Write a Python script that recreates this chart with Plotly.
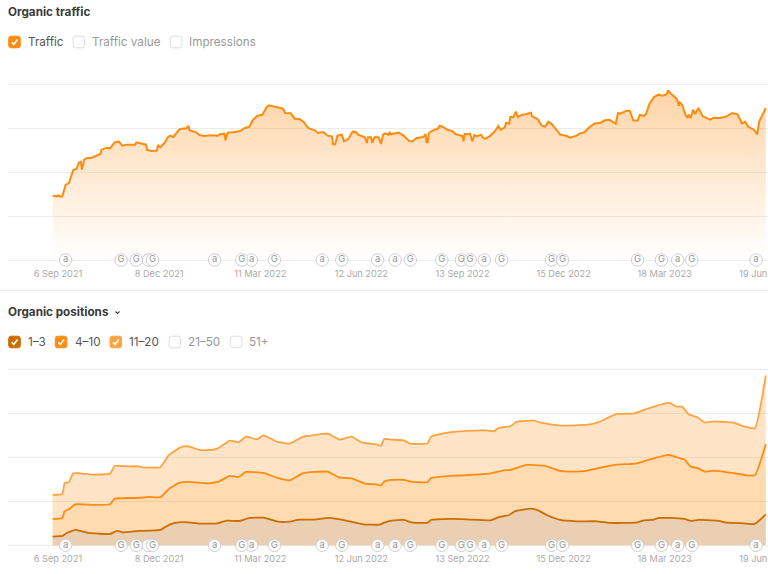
from datetime import date, timedelta
import plotly.graph_objects as go

# all series: day offset from 1 Sep 2021, value in chart units (no axis numbers in the source)
START = date(2021, 9, 1)

traffic_days = [0,4,5,7,9,10,12,15,17,19,22,24,26,27,29,31,36,40,44,45,50,53,57,61,64,68,76,77,86,87,91,96,97,99,103,106,108,111,117,123,125,126,132,135,140,145,152,154,158,159,161,166,172,177,181,184,188,193,197,199,206,212,214,219,223,227,231,235,241,244,249,253,257,258,260,262,266,268,272,276,279,281,287,289,290,293,294,296,300,302,304,306,309,310,311,318,323,328,331,335,341,343,344,345,346,351,354,356,359,363,368,371,377,378,379,382,384,386,388,390,394,396,398,402,407,410,412,416,417,420,421,424,426,428,432,435,440,441,446,450,453,456,459,464,467,473,476,482,485,489,493,498,504,508,512,518,520,522,528,531,534,538,540,544,546,549,553,557,561,565,566,569,574,576,577,579,582,584,585,587,589,591,594,598,605,608,613,618,620,625,630,634,637,640,645,648,650,656]
traffic = [193,191,194,190,191,206,226,230,251,270,273,291,295,271,301,305,307,313,318,331,337,335,353,355,343,346,346,353,346,330,327,328,345,338,351,368,373,369,393,395,402,389,383,375,372,374,373,377,379,359,382,383,386,396,400,419,432,436,459,464,458,454,441,440,423,423,414,396,389,381,384,373,371,347,347,373,376,356,363,385,384,376,369,351,368,368,351,368,368,348,376,380,376,384,377,382,373,357,356,366,369,378,353,353,381,391,393,403,399,391,386,377,372,356,378,377,379,356,375,371,376,366,364,371,387,402,391,398,411,409,429,429,445,429,436,437,442,431,423,403,400,415,408,386,376,372,367,373,380,383,396,409,412,419,421,409,441,439,448,447,419,418,435,432,439,469,488,496,493,497,509,498,484,463,473,466,436,426,436,426,451,438,456,431,421,427,426,429,431,441,437,409,415,399,391,377,416,456]

pos_11_20_days = [0,9,11,15,19,25,37,53,57,68,79,83,99,107,119,126,135,145,152,163,171,178,188,194,206,218,230,253,264,275,284,298,302,305,312,323,329,345,348,365,375,397,406,410,421,427,443,450,467,492,501,519,535,550,567,574,579,585,593,600,608,627,637,646,656]
pos_11_20 = [151,154,186,190,216,216,212,215,238,237,237,234,234,271,296,296,286,286,291,314,309,326,318,330,311,305,325,335,317,326,309,303,298,319,317,315,305,306,326,339,342,345,342,352,357,371,374,367,359,362,368,394,396,413,427,416,416,393,384,368,372,367,355,352,510]

pos_4_10_days = [0,9,11,15,21,37,53,57,79,89,99,107,117,126,143,152,163,171,178,194,206,218,230,253,263,275,287,298,302,305,312,323,331,345,348,365,378,401,415,421,436,452,467,481,492,501,519,536,553,567,577,581,587,593,600,608,623,639,646,656]
pos_4_10 = [79,82,102,108,123,121,123,140,142,145,144,169,188,190,186,190,208,205,220,217,203,195,216,221,204,201,185,183,179,191,196,196,190,190,202,208,210,215,225,226,241,239,223,221,224,231,242,245,261,271,261,258,236,232,221,224,218,210,210,304]

pos_1_3_days = [0,9,13,21,33,53,59,65,79,99,108,116,125,135,152,160,172,181,194,207,218,227,241,255,270,286,301,305,312,323,331,345,348,366,381,403,410,420,426,440,447,455,467,482,501,513,538,544,551,558,568,581,587,594,611,620,636,646,656]
pos_1_3 = [26,28,37,46,37,34,43,39,43,46,63,69,69,65,66,74,73,82,83,71,71,77,77,82,74,63,62,68,74,76,68,68,76,79,78,75,84,91,103,110,104,90,76,72,72,67,69,75,76,82,82,79,73,76,74,68,66,64,93]

tick_days = [5,98,191,284,377,470,563,656]
tick_labels = ["6 Sep 2021","8 Dec 2021","11 Mar 2022","12 Jun 2022","13 Sep 2022","15 Dec 2022","18 Mar 2023","19 Jun 2023"]

event_a_days = [12,149,183,248,299,315,397,575,647]
event_g_days = [63,77,92,174,204,266,329,358,376,384,413,459,469,538,560,588]
# this badge sits behind the one at day 92, only its ring shows
event_hidden_days = [88]

ORANGE = "#ff8c0f"
DARK = "#cc6d00"
LIGHT = "#ffa340"
W, H = 768, 574


def to_dates(days):
    return [START + timedelta(days=d) for d in days]


def px(x):
    return x / W


def py(y):
    return 1 - y / H


def box_path(x0, y0, x1, y1, r=2.5):
    return (f"M{px(x0+r)},{py(y0)} L{px(x1-r)},{py(y0)} Q{px(x1)},{py(y0)} {px(x1)},{py(y0+r)} "
            f"L{px(x1)},{py(y1-r)} Q{px(x1)},{py(y1)} {px(x1-r)},{py(y1)} "
            f"L{px(x0+r)},{py(y1)} Q{px(x0)},{py(y1)} {px(x0)},{py(y1-r)} "
            f"L{px(x0)},{py(y0+r)} Q{px(x0)},{py(y0)} {px(x0+r)},{py(y0)} Z")


shapes, annotations = [], []


def checkbox(x, yc, color=None):
    shapes.append(dict(type="path", xref="paper", yref="paper", path=box_path(x, yc-5.8, x+11.6, yc+5.8),
                       fillcolor=color or "white", line=dict(color=color or "#dedede", width=1)))
    if color:
        shapes.append(dict(type="path", xref="paper", yref="paper",
                           path=f"M{px(x+3)},{py(yc+0.2)} L{px(x+5)},{py(yc+2.4)} L{px(x+8.8)},{py(yc-2.4)}",
                           line=dict(color="white", width=1.6)))


def label(x, yc, text, color, size=11.7, bold=False):
    annotations.append(dict(xref="paper", yref="paper", x=px(x), y=py(yc), text=f"<b>{text}</b>" if bold else text,
                            showarrow=False, xanchor="left", yanchor="middle", borderpad=0,
                            font=dict(family="Inter", size=size, color=color)))


label(6.7, 12, "Organic traffic", "#3a3a3a", 11.7, True)
label(6.7, 312, "Organic positions", "#3a3a3a", 11.7, True)
shapes.append(dict(type="path", xref="paper", yref="paper",
                   path=f"M{px(115.5)},{py(311.5)} L{px(117.5)},{py(313.5)} L{px(119.5)},{py(311.5)}",
                   line=dict(color="#444", width=1.1)))
for x, tx, text, col, tcol in [(8.7, 26.7, "Traffic", ORANGE, "#555"),
                               (73, 90.7, "Traffic value", None, "#999"),
                               (170.3, 187.7, "Impressions", None, "#999")]:
    checkbox(x, 42, col)
    label(tx, 42, text, tcol)
for x, tx, text, col, tcol in [(8.7, 26.7, "1–3", DARK, "#555"),
                               (55.3, 73.7, "4–10", ORANGE, "#555"),
                               (110, 127.7, "11–20", LIGHT, "#555"),
                               (169, 186.7, "21–50", None, "#999"),
                               (230.3, 247.7, "51+", None, "#999")]:
    checkbox(x, 342, col)
    label(tx, 342, text, tcol)
shapes.append(dict(type="line", xref="paper", yref="paper", x0=0, x1=1, y0=py(290.5), y1=py(290.5),
                   line=dict(color="#eeeeee", width=1)))

fig = go.Figure()

fig.add_trace(go.Scatter(x=to_dates(traffic_days), y=traffic, mode="lines", xaxis="x", yaxis="y",
                         line=dict(color=ORANGE, width=2), fill="tozeroy",
                         fillgradient=dict(type="vertical", start=0, stop=528,
                                           colorscale=[[0, "rgba(255,150,40,0)"], [1, "rgba(255,150,40,0.42)"]])))

for days, vals, color, fc in [(pos_1_3_days, pos_1_3, DARK, "rgba(190,100,10,0.31)"),
                              (pos_4_10_days, pos_4_10, ORANGE, "rgba(255,150,30,0.34)"),
                              (pos_11_20_days, pos_11_20, LIGHT, "rgba(255,150,40,0.26)")]:
    # every band is filled on its own range so the lower lines do not tint the upper ones
    fig.add_trace(go.Scatter(x=to_dates(days), y=vals, mode="lines", xaxis="x2", yaxis="y2",
                             line=dict(color=color, width=1.8, shape="spline", smoothing=0.4),
                             fill="tozeroy" if days is pos_1_3_days else "tonexty", fillcolor=fc))

for xa, ya in [("x", "y"), ("x2", "y2")]:
    for days, letter in [(event_hidden_days, ""), (event_a_days, "a"), (event_g_days, "G")]:
        fig.add_trace(go.Scatter(x=to_dates(days), y=[0] * len(days), mode="markers+text", xaxis=xa, yaxis=ya,
                                 text=[letter] * len(days), textposition="middle center", cliponaxis=False,
                                 textfont=dict(family="Inter", size=9.5, color="#9a9a9a"),
                                 marker=dict(size=12.5, color="rgba(255,255,255,0.85)", line=dict(color="#cfcfcf", width=1))))

x_range = [START + timedelta(days=-41), START + timedelta(days=658)]
x_common = dict(type="date", range=x_range, tickmode="array", tickvals=to_dates(tick_days), ticktext=tick_labels,
                showgrid=False, zeroline=False, showline=False, ticks="outside", ticklen=1, tickcolor="rgba(0,0,0,0)",
                tickangle=0, tickfont=dict(family="Inter", size=9.2, color="#ababab"), domain=[px(8), 1],
                ticklabeloverflow="allow", automargin=False)
# range runs past 0 and 528 so the first and last gridlines still get drawn
y_common = dict(range=[-12, 540], tickmode="array", tickvals=[0, 132, 264, 396, 528], showticklabels=False,
                showgrid=True, gridcolor="#ececec", gridwidth=1, zeroline=False, showline=False, automargin=False)

fig.update_layout(
    width=W, height=H, margin=dict(l=0, r=0, t=0, b=0), autosize=False,
    paper_bgcolor="white", plot_bgcolor="white", showlegend=False,
    xaxis=dict(x_common, anchor="y"),
    yaxis=dict(y_common, anchor="x", domain=[py(264), py(80)]),
    xaxis2=dict(x_common, anchor="y2"),
    yaxis2=dict(y_common, anchor="x2", domain=[py(549.3), py(365.3)]),
    shapes=shapes, annotations=annotations,
)

fig.write_html("out.html", config=dict(displayModeBar=False), post_script="document.body.style.margin='0'")
